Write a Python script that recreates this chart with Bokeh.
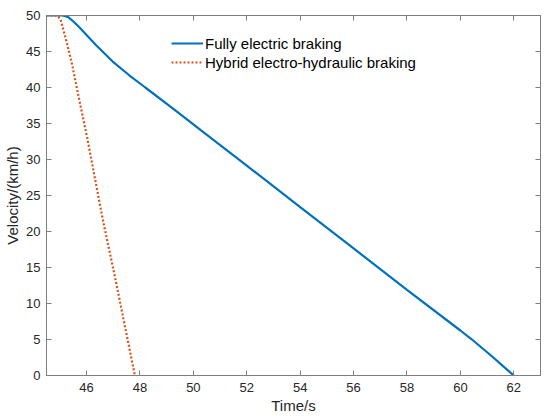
from bokeh.plotting import figure
from bokeh.models import (LinearAxis, Legend, LegendItem, Range1d, FixedTicker,
                          CustomLabelingPolicy)
from bokeh.embed import file_html
from bokeh.resources import INLINE

# Data
electric_t = [44.5, 45.1, 45.3, 45.47, 45.72, 46.0, 46.35, 46.98, 47.6, 48.2, 49.3, 50.3,
              52.0, 54.0, 56.0, 58.0, 60.0, 60.4, 61.2, 62.0]
electric_v = [50, 50, 49.8, 49.3, 48.4, 47.3, 45.9, 43.6, 41.7, 40.0, 36.9, 34.0,
              29.15, 23.4, 17.65, 11.9, 6.25, 5.1, 2.6, 0]
hybrid_t = [44.5, 44.85, 44.95, 45.04, 45.16, 45.29, 45.47, 45.66, 46.03, 46.59, 47.09, 47.81]
hybrid_v = [50, 50, 49.8, 49.26, 47.6, 45.8, 43.0, 39.5, 32.9, 22.0, 13.2, 0]

x_ticks = [46, 48, 50, 52, 54, 56, 58, 60, 62]
y_ticks = [0, 5, 10, 15, 20, 25, 30, 35, 40, 45, 50]
series_names = ["Fully electric braking", "Hybrid electro-hydraulic braking"]
x_label = "Time/s"
y_label = "Velocity/(km/h)"

FONT = "Liberation Sans"
AXIS_COL = "#7f7f7f"
TEXT_COL = "#262626"

p = figure(width=542, height=416, output_backend="svg", toolbar_location=None,
           x_range=Range1d(44.5, 63.0), y_range=Range1d(0, 50),
           min_border_left=46, min_border_right=2, min_border_top=15, min_border_bottom=0)
p.grid.visible = False
p.outline_line_color = AXIS_COL
p.background_fill_color = "white"
p.border_fill_color = "white"

def style_axis(ax, labels=True):
    ax.axis_line_color = AXIS_COL
    ax.major_tick_line_color = AXIS_COL
    ax.major_tick_in = 5
    ax.major_tick_out = 0
    ax.minor_tick_line_color = None
    ax.major_label_text_font = FONT
    ax.major_label_text_color = TEXT_COL
    ax.axis_label_text_font = FONT
    ax.axis_label_text_font_style = "normal"
    ax.axis_label_text_color = TEXT_COL
    ax.axis_label_text_font_size = "15px"
    if labels:
        ax.major_label_text_font_size = "13px"
    else:
        ax.major_label_text_font_size = "0px"
        ax.major_label_standoff = 0
        ax.major_label_policy = CustomLabelingPolicy(code="return new Set()")

xa = p.xaxis[0]
ya = p.yaxis[0]
xa.ticker = FixedTicker(ticks=x_ticks)
ya.ticker = FixedTicker(ticks=y_ticks)
style_axis(xa)
style_axis(ya)
xa.axis_label = x_label
ya.axis_label = y_label
xa.major_label_standoff = 7
xa.axis_label_standoff = 2
ya.major_label_standoff = 6
ya.axis_label_standoff = 2

top = LinearAxis(ticker=FixedTicker(ticks=x_ticks))
right = LinearAxis(ticker=FixedTicker(ticks=y_ticks))
style_axis(top, labels=False)
style_axis(right, labels=False)
p.add_layout(top, "above")
p.add_layout(right, "right")

r1 = p.line(electric_t, electric_v, line_color="#0072BD", line_width=2.2)
r2 = p.line(hybrid_t, hybrid_v, line_color="#D95319", line_width=2.2, line_dash="2 2")

legend = Legend(items=[LegendItem(label=series_names[0], renderers=[r1]),
                       LegendItem(label=series_names[1], renderers=[r2])],
                location=(125, 304))
legend.border_line_color = None
legend.background_fill_alpha = 0
legend.padding = 0
legend.margin = 0
legend.spacing = 1
legend.glyph_width = 32
legend.glyph_height = 18
legend.label_height = 18
legend.label_standoff = 2
legend.label_text_font = FONT
legend.label_text_font_size = "15px"
legend.label_text_color = "black"
p.add_layout(legend)

open("out.html", "w").write(file_html(p, INLINE))
